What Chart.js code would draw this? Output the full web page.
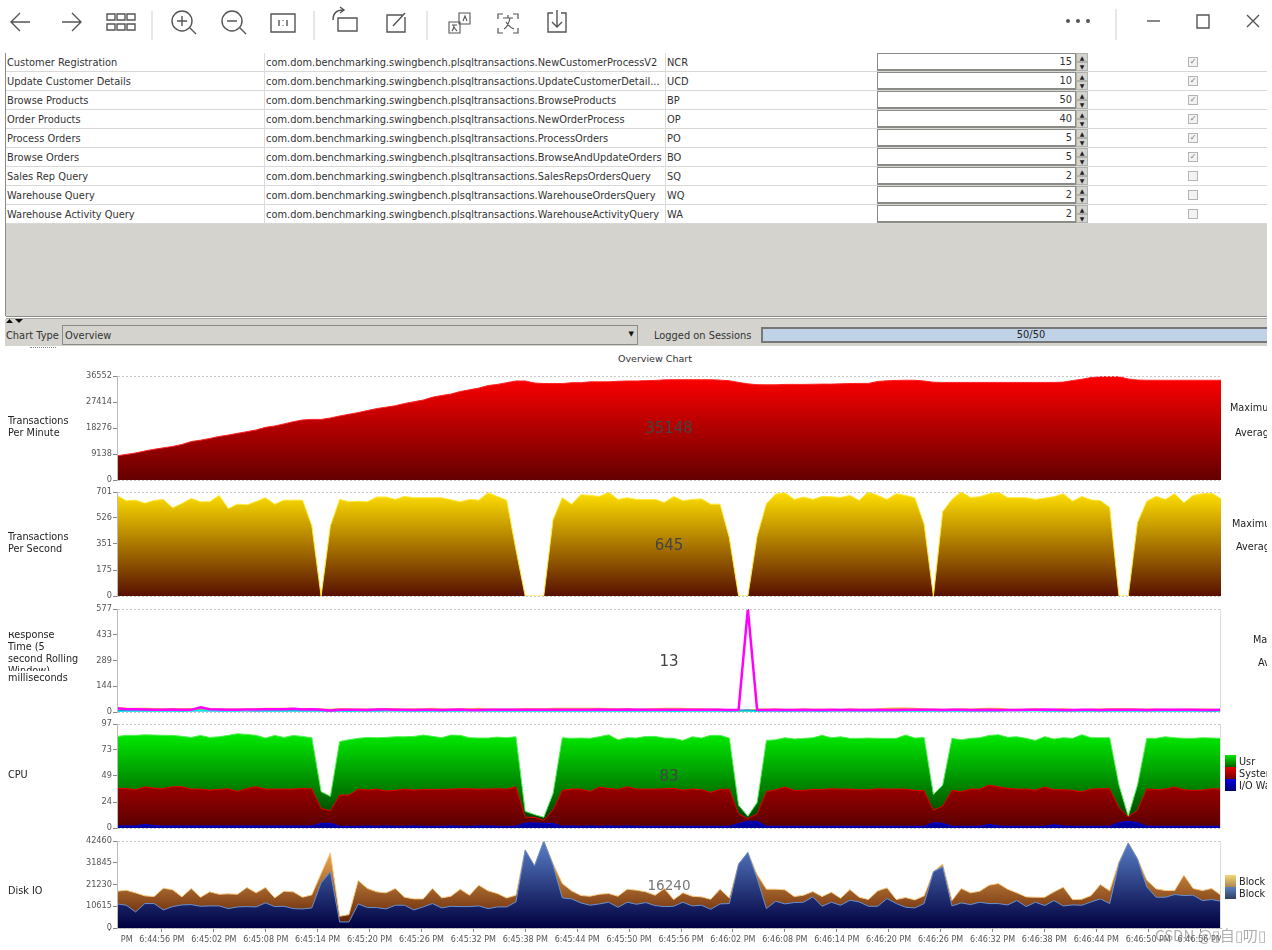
<!DOCTYPE html>
<html lang="en">

<head>
    <meta charset="UTF-8">
    <title>Overview Chart</title>
    <script src="https://cdn.jsdelivr.net/npm/chart.js"></script>
    <style>
        html, body { margin: 0; padding: 0; background: #fff; overflow: hidden; }
        body { width: 1272px; height: 950px; position: relative; font-family: "DejaVu Sans", sans-serif; font-size: 9.85px; color: #333; }
        .abs { position: absolute; white-space: nowrap; }
        canvas { position: absolute; left: 0; }
        .panel { position: absolute; background: #d4d3ce; }
        .row { position: absolute; left: 6px; width: 1266px; height: 19px; background: #fff; border-bottom: 1px solid #d8d8d4; box-sizing: border-box; overflow: hidden; }
        .row span { position: absolute; top: 4px; white-space: nowrap; }
        .col { position: absolute; top: 53px; height: 170px; width: 1px; background: #dddddd; }
        .spin { position: absolute; left: 871px; top: 0; width: 199px; height: 18px; box-sizing: border-box; background: #fff; border: 1px solid #8a8a86; border-bottom-width: 2px; text-align: right; padding: 2px 3px 0 0; color: #333; }
        .btn { position: absolute; left: 1070px; width: 12px; height: 9px; background: #d4d3ce; border: 1px solid #b0b0ac; box-sizing: border-box; font-size: 6px; line-height: 7px; text-align: center; color: #222; }
        .check { position: absolute; left: 1182px; top: 4px; width: 10px; height: 10px; box-sizing: border-box; border: 1px solid #b4b4b4; background: #f2f2f2; font-size: 8px; line-height: 8px; text-align: center; color: #777; }
        .side { font-size: 9.7px; color: #222; }
        .big { font-size: 15px; color: #444; transform: translateX(-50%); }
        .swatch { position: absolute; left: 1225px; width: 11px; height: 12px; }
    </style>
</head>

<body>
    <!-- barra do visualizador -->
    <svg class="abs" style="left:0;top:0" width="1272" height="50" fill="none" stroke="#555" stroke-width="1.4">
        <path d="M30 22H12M20 13l-9 9 9 9" />
        <path d="M62 22h18M72 13l9 9-9 9" />
        <path d="M107 14h8v6h-8zM117 14h8v6h-8zM127 14h8v6h-8zM107 24h8v6h-8zM117 24h8v6h-8zM127 24h8v6h-8z" />
        <path d="M152 11v29" stroke="#ddd" />
        <circle cx="182" cy="21" r="10" /><path d="M190 28l6 6M177 21h10M182 16v10" />
        <circle cx="232" cy="21" r="10" /><path d="M240 28l6 6M227 21h10" />
        <path d="M271 14h24v18h-24zM279 20v6M287 20v6" />
        <path d="M283 20v1M283 25v1" stroke-width="1" />
        <path d="M314 11v29" stroke="#ddd" />
        <path d="M338 18h19v13h-19zM333 20c0-7 4-10 10-10M340 7l4 3-4 3" />
        <path d="M403 15h-16v17h18v-15M393 26l12-13" />
        <path d="M427 11v29" stroke="#ddd" />
        <path d="M459 13h11v11h-11zM449 22h11v11h-11zM452 25h5M454 25c0 3-1 5-2 6M454 27c1 2 2 3 3 4M463 21l2-5 2 5" stroke-width="1.1" />
        <path d="M498 19v-5h5M513 14h5v5M518 28v5h-5M503 33h-5v-5M503 18h10M508 15v3M504 29c3-2 5-6 6-11M506 22c2 3 4 6 8 7" stroke-width="1.2" />
        <path d="M553 13h-5v19h18v-19h-5M557 10v17M552 22l5 5 5-5" />
        <circle cx="1068" cy="21" r="2" fill="#555" stroke="none" /><circle cx="1078" cy="21" r="2" fill="#555" stroke="none" /><circle cx="1088" cy="21" r="2" fill="#555" stroke="none" />
        <path d="M1116 9v31" stroke="#ddd" />
        <path d="M1147 21h13" />
        <path d="M1197 15h12v13h-12z" />
        <path d="M1247 15l12 12M1259 15l-12 12" />
    </svg>

    <!-- tabela de transacoes -->
    <div class="panel" style="left:5px;top:53px;width:1267px;height:263px;border-left:1px solid #8a8a86;box-sizing:border-box"></div>
    <div id="tabela"></div>
    <div class="col" style="left:264px"></div>
    <div class="col" style="left:665px"></div>
    <div class="abs" style="left:6px;top:316px;width:1266px;height:1px;background:#8a8a86"></div>
    <div class="abs" style="left:6px;top:318px;width:1266px;height:1px;background:#a8a8a4"></div>
    <div class="panel" style="left:5px;top:319px;width:1267px;height:27px"></div>
    <svg class="abs" style="left:5px;top:318px" width="20" height="6" fill="#111"><path d="M1 5l3.5-4 3.5 4zM10 1h8l-4 4z" /></svg>
    <div class="abs" style="left:6px;top:330px">Chart Type</div>
    <div class="abs" style="left:62px;top:325px;width:576px;height:20px;box-sizing:border-box;border:1px solid #8a8a86;padding:4px 0 0 2px">Overview<span style="position:absolute;right:3px;top:4px;font-size:7px;color:#111">▼</span></div>
    <div class="abs" style="left:654px;top:330px">Logged on Sessions</div>
    <div class="abs" style="left:761px;top:327px;width:538px;height:16px;box-sizing:border-box;background:#c0d2e8;border:1px solid #777;border-width:2px 0 2px 2px;text-align:center;line-height:12px;color:#222">50/50</div>
    <div class="abs" style="left:30px;top:347px;width:26px;height:0;border-top:1px dotted #888"></div>

    <div class="abs" style="left:618px;top:353px;font-size:9.5px">Overview Chart</div>

    <canvas id="tpm"></canvas>
    <canvas id="tps"></canvas>
    <canvas id="resp"></canvas>
    <canvas id="cpu"></canvas>
    <canvas id="disk"></canvas>

    <!-- esconde as pontas dos rotulos do eixo x, como no original -->
    <div class="abs" style="left:60px;top:931px;width:58px;height:19px;background:#fff"></div>
    <div class="abs" style="left:1221px;top:931px;width:51px;height:19px;background:#fff"></div>
    <div class="abs" style="left:1220px;top:609px;width:1px;height:103px;background:#ddd"></div>
    <div class="abs" style="left:1220px;top:724px;width:1px;height:104px;background:#ddd"></div>
    <div class="abs" style="left:1220px;top:841px;width:1px;height:87px;background:#ddd"></div>

    <div class="abs side" style="left:8px;top:415px;line-height:12px">Transactions<br>Per Minute</div>
    <div class="abs side" style="left:8px;top:531px;line-height:12px">Transactions<br>Per Second</div>
    <div class="abs side" style="left:8px;top:632px;width:90px;height:39px;overflow:hidden;line-height:12px"><div style="margin-top:-3px">Response<br>Time (5<br>second Rolling<br>Window)</div></div>
    <div class="abs side" style="left:8px;top:672px;line-height:12px">milliseconds</div>
    <div class="abs side" style="left:8px;top:769px">CPU</div>
    <div class="abs side" style="left:8px;top:885px">Disk IO</div>

    <div class="abs side" style="left:1230px;top:402px">Maximum</div>
    <div class="abs side" style="left:1235px;top:427px">Average</div>
    <div class="abs side" style="left:1232px;top:518px">Maximum</div>
    <div class="abs side" style="left:1236px;top:541px">Average</div>
    <div class="abs side" style="left:1253px;top:634px">Maximum</div>
    <div class="abs side" style="left:1258px;top:657px">Average</div>

    <div class="abs big" style="left:669px;top:419px">35148</div>
    <div class="abs big" style="left:669px;top:536px">645</div>
    <div class="abs big" style="left:669px;top:652px">13</div>
    <div class="abs big" style="left:669px;top:767px">83</div>
    <div class="abs big" style="left:669px;top:877px;font-size:13.5px;color:#777">16240</div>

    <div class="swatch" style="top:755px;background:linear-gradient(#00e800,#006000)"></div>
    <div class="swatch" style="top:767px;background:linear-gradient(#e80000,#700000)"></div>
    <div class="swatch" style="top:779px;background:linear-gradient(#0000e8,#000070)"></div>
    <div class="abs side" style="left:1239px;top:756px">Usr</div>
    <div class="abs side" style="left:1239px;top:768px">System</div>
    <div class="abs side" style="left:1239px;top:780px">I/O Wait</div>
    <div class="swatch" style="top:875px;background:linear-gradient(#f4d878,#a88850)"></div>
    <div class="swatch" style="top:887px;background:linear-gradient(#5a80c0,#304060)"></div>
    <div class="abs side" style="left:1239px;top:876px">Block</div>
    <div class="abs side" style="left:1239px;top:888px">Block</div>

    <div class="abs" style="left:1155px;top:924px;font:15px 'Noto Sans CJK SC',sans-serif;color:rgba(120,120,120,.6)">CSDN @▯自▯叨▯</div>

    <!-- a captura termina antes da borda direita -->
    <div class="abs" style="left:1267px;top:0;width:5px;height:950px;background:#fff"></div>

    <script>
        // tabela
        const txnNames = ['Customer Registration', 'Update Customer Details', 'Browse Products', 'Order Products', 'Process Orders', 'Browse Orders', 'Sales Rep Query', 'Warehouse Query', 'Warehouse Activity Query'];
        const txnClasses = ['NewCustomerProcessV2', 'UpdateCustomerDetail...', 'BrowseProducts', 'NewOrderProcess', 'ProcessOrders', 'BrowseAndUpdateOrders', 'SalesRepsOrdersQuery', 'WarehouseOrdersQuery', 'WarehouseActivityQuery'];
        const txnCodes = ['NCR', 'UCD', 'BP', 'OP', 'PO', 'BO', 'SQ', 'WQ', 'WA'];
        const txnWeights = [15, 10, 50, 40, 5, 5, 2, 2, 2];
        const txnEnabled = [true, true, true, true, true, true, false, false, false];

        // eixo de tempo
        const tickSeconds = [0, 6, 12, 18, 24, 30, 36, 42, 48, 54, 60, 66, 72, 78, 84, 90, 96, 102, 108, 114, 120, 126];
        const tickLabels = ['6:44:50 PM', '6:44:56 PM', '6:45:02 PM', '6:45:08 PM', '6:45:14 PM', '6:45:20 PM', '6:45:26 PM', '6:45:32 PM', '6:45:38 PM', '6:45:44 PM', '6:45:50 PM', '6:45:56 PM', '6:46:02 PM', '6:46:08 PM', '6:46:14 PM', '6:46:20 PM', '6:46:26 PM', '6:46:32 PM', '6:46:38 PM', '6:46:44 PM', '6:46:50 PM', '6:46:56 PM'];

        // ticks do eixo y
        const tpmTicks = [0, 9138, 18276, 27414, 36552];
        const tpsTicks = [0, 175, 351, 526, 701];
        const respTicks = [0, 144, 289, 433, 577];
        const cpuTicks = [0, 24, 49, 73, 97];
        const diskTicks = [0, 10615, 21230, 31845, 42460];

        const tpmValues = [8490, 9000, 9500, 10200, 10800, 11300, 11800, 12500, 13500, 14000,
            14600, 15300, 15800, 16400, 17000, 17600, 18500, 19000, 19700, 20500,
            21100, 21300, 21300, 21800, 22500, 23100, 23700, 24400, 25100, 25600,
            26100, 26900, 27500, 28100, 29100, 29700, 30200, 31100, 31700, 32300,
            33200, 33600, 34200, 34800, 34800, 34100, 33900, 33900, 33900, 34200,
            34200, 34500, 34500, 34500, 34700, 34800, 34800, 34900, 35000, 35200,
            35250, 35250, 35250, 35250, 35250, 35100, 34900, 34300, 33800, 33500,
            33450, 33450, 33600, 33600, 33600, 33650, 33700, 33700, 33800, 33900,
            33950, 33950, 34650, 34850, 35000, 35050, 35050, 34800, 34350, 34300,
            34300, 34300, 34300, 34300, 34300, 34300, 34300, 34300, 34300, 34300,
            34300, 34300, 34400, 34950, 35400, 36000, 36320, 36350, 36300, 35500,
            35150, 35050, 35050, 35050, 35050, 35050, 35050, 35050, 35050, 35050];

        const tpsValues = [678, 642, 646, 626, 644, 651, 594, 623, 658, 635,
            635, 678, 589, 619, 614, 637, 662, 619, 646, 646,
            646, 473, 0, 473, 651, 635, 639, 635, 667, 667,
            651, 671, 662, 662, 662, 662, 648, 635, 651, 646,
            696, 671, 646, 313, 0, 0, 0, 514, 662, 619,
            683, 678, 671, 699, 651, 662, 651, 651, 651, 630,
            671, 642, 651, 655, 619, 619, 393, 0, 0, 404,
            621, 687, 696, 651, 667, 651, 671, 669, 664, 678,
            644, 701, 678, 651, 689, 678, 662, 484, 0, 568,
            651, 701, 664, 669, 689, 701, 662, 662, 662, 651,
            660, 669, 689, 639, 671, 648, 642, 598, 0, 0,
            495, 639, 671, 651, 689, 628, 678, 689, 694, 655];

        const respMagenta = [21, 16, 15, 14, 13, 13, 14, 13, 12, 26,
            15, 14, 13, 13, 14, 14, 16, 15, 16, 18,
            14, 16, 13, 9, 13, 12, 12, 11, 14, 14,
            12, 12, 11, 12, 12, 11, 12, 14, 11, 11,
            12, 12, 13, 13, 12, 12, 12, 13, 13, 12,
            13, 12, 14, 13, 12, 14, 13, 12, 12, 13,
            12, 12, 13, 12, 12, 12, 11, 12, 577, 11,
            11, 12, 11, 11, 12, 11, 11, 12, 11, 12,
            11, 11, 12, 11, 11, 13, 12, 12, 13, 11,
            12, 12, 11, 11, 13, 11, 11, 11, 12, 12,
            14, 12, 11, 11, 12, 12, 11, 12, 12, 13,
            12, 11, 12, 12, 13, 12, 12, 11, 11, 12];
        const respOrange = [22, 20, 20, 20, 18, 17, 18, 17, 18, 20,
            17, 17, 15, 16, 17, 17, 19, 19, 20, 19,
            18, 18, 16, 14, 18, 17, 16, 15, 17, 18,
            18, 16, 17, 17, 19, 15, 15, 17, 17, 19,
            16, 15, 15, 16, 18, 18, 17, 19, 20, 20,
            20, 20, 20, 18, 17, 17, 16, 16, 18, 20,
            20, 19, 17, 17, 16, 15, 5, 4, 4, 15,
            16, 15, 14, 14, 15, 14, 14, 14, 14, 15,
            14, 14, 15, 19, 21, 21, 19, 17, 15, 14,
            15, 17, 16, 18, 19, 19, 15, 14, 14, 18,
            13, 14, 17, 14, 13, 14, 16, 18, 18, 18,
            16, 15, 15, 14, 14, 15, 15, 16, 14, 13];
        const respCyan = [4, 5, 5, 5, 6, 6, 5, 6, 7, 9,
            7, 6, 5, 6, 9, 7, 6, 5, 6, 5,
            6, 5, 5, 5, 5, 4, 5, 6, 6, 7,
            7, 6, 7, 6, 5, 5, 6, 6, 8, 7,
            6, 6, 5, 5, 6, 5, 5, 6, 5, 6,
            5, 5, 6, 5, 5, 6, 5, 5, 6, 5,
            4, 5, 5, 6, 5, 5, 4, 5, 5, 4,
            5, 5, 4, 5, 6, 5, 4, 5, 5, 5,
            6, 5, 6, 5, 5, 5, 5, 6, 7, 6,
            5, 5, 6, 5, 5, 6, 7, 8, 6, 9,
            6, 5, 7, 5, 5, 6, 5, 6, 5, 5,
            6, 6, 5, 5, 5, 6, 5, 5, 4, 5];
        const respBlue = [8, 7, 7, 8, 8, 7, 7, 6, 7, 8,
            7, 7, 8, 7, 7, 6, 8, 9, 7, 7,
            7, 8, 7, 6, 7, 7, 8, 7, 7, 7,
            8, 7, 7, 7, 8, 7, 7, 7, 8, 7,
            7, 8, 7, 7, 7, 8, 7, 7, 8, 7,
            7, 7, 8, 7, 7, 7, 8, 7, 7, 8,
            7, 7, 7, 8, 7, 7, 7, 9, 10, 7,
            7, 8, 7, 7, 7, 8, 7, 9, 13, 8,
            7, 7, 8, 7, 7, 7, 8, 7, 7, 8,
            7, 7, 8, 7, 7, 8, 10, 13, 9, 9,
            8, 7, 7, 8, 7, 7, 8, 7, 7, 8,
            7, 7, 7, 8, 7, 7, 8, 7, 7, 8];
        const respGreen = [10, 11, 11, 10, 10, 11, 10, 11, 10, 12,
            10, 11, 10, 10, 11, 10, 12, 11, 11, 11,
            10, 11, 10, 10, 10, 11, 10, 10, 11, 11,
            10, 10, 11, 11, 12, 10, 10, 11, 10, 11,
            10, 10, 11, 10, 11, 10, 11, 11, 10, 11,
            10, 11, 11, 10, 11, 10, 11, 10, 11, 10,
            11, 10, 11, 10, 11, 10, 8, 9, 9, 10,
            10, 11, 10, 10, 11, 10, 10, 11, 10, 11,
            10, 11, 10, 14, 15, 14, 12, 10, 11, 10,
            10, 14, 14, 15, 13, 13, 11, 10, 11, 12,
            10, 11, 13, 10, 11, 10, 11, 13, 12, 13,
            11, 10, 11, 10, 11, 11, 10, 12, 11, 10];

        const cpuUsr = [48.5, 49.5, 50.7, 48.5, 49.5, 49.5, 47.9, 47, 48.2, 50,
            49.1, 49.1, 49.8, 53.8, 50.4, 47.9, 47.6, 50, 48.2, 50,
            48.5, 47.6, 15.7, 13.5, 50, 51.6, 47.3, 49.1, 47.9, 50,
            50, 48.8, 50, 50.7, 49.5, 48.2, 50.4, 49.8, 47.6, 47.6,
            47.6, 48.2, 47.9, 46.6, 5.6, 2.5, 2.8, 15.3, 49.1, 47.3,
            47.6, 49.5, 47, 50, 46.3, 45.7, 47.6, 49.1, 49.1, 47.3,
            46.6, 46.3, 48.8, 48.2, 53.2, 50.4, 47.6, 8.1, 2.2, 10.6,
            47.9, 46.6, 46, 47.9, 48.5, 48.2, 50.4, 47.6, 48.8, 47.3,
            47.9, 48.2, 47, 47.3, 47.3, 50.4, 48.8, 49.5, 14.7, 19.7,
            48.5, 48.5, 47.3, 47.9, 46.3, 48.5, 47.6, 48.8, 47.3, 46.3,
            47, 47.3, 48.5, 48.5, 53.2, 47.9, 47.6, 47.6, 21, 0.6,
            23.5, 47, 47.9, 48.8, 46, 47.9, 48.5, 48.8, 47.3, 47.3];
        const cpuSystem = [35, 35, 33.8, 35, 35, 35, 36.6, 36.6, 34.4, 34.4,
            33.5, 34.1, 34.7, 32.2, 35, 36.6, 34.4, 34.4, 34.4, 34.4,
            35, 34.7, 13.8, 11.6, 29.1, 29.1, 34.7, 33.5, 34.7, 32.6,
            33.5, 34.7, 33.5, 34.4, 34.4, 34.4, 34.4, 35, 35, 34.4,
            34.4, 35, 34.7, 36.9, 5.3, 5.3, 2.8, 12.8, 33.5, 34.4,
            34.7, 32.2, 36.6, 35, 34.4, 36.6, 34.7, 34.7, 34.7, 35,
            35.4, 33.8, 34.7, 34.1, 31.6, 34.4, 34.7, 9.1, 2.5, 6.9,
            32.2, 34.1, 36.6, 33.5, 33.5, 34.4, 34.4, 35, 34.7, 34.7,
            34.1, 34.1, 35, 34.7, 34.7, 34.7, 33.5, 33.2, 11.6, 16,
            33.5, 32.2, 34.7, 34.7, 36.6, 36.6, 35.4, 34.7, 34.7, 33.8,
            36.6, 32.6, 33.8, 33.5, 32.2, 34.7, 35, 35, 14.1, 4.1,
            11.6, 35, 34.1, 34.7, 36.6, 34.1, 33.5, 33.8, 35, 34.7];
        const cpuIoWait = [1.9, 1.9, 1.9, 3.4, 2.2, 1.9, 1.9, 1.9, 1.9, 1.9,
            1.9, 1.9, 1.9, 1.9, 1.9, 1.9, 1.9, 1.9, 1.9, 1.9,
            1.9, 1.9, 4.4, 4.4, 1.6, 1.6, 1.6, 1.9, 1.6, 1.9,
            1.6, 1.6, 1.9, 1.6, 1.6, 1.6, 1.9, 1.6, 1.6, 1.9,
            1.9, 1.6, 1.6, 1.6, 4.7, 4.7, 4.4, 4.1, 1.6, 1.9,
            1.6, 1.9, 1.6, 1.9, 1.6, 1.9, 1.6, 1.6, 1.6, 1.6,
            1.6, 1.6, 1.6, 1.6, 1.6, 1.6, 1.6, 4.1, 6.3, 6.3,
            1.6, 1.6, 1.6, 1.6, 1.6, 1.6, 1.6, 1.6, 1.6, 1.6,
            1.6, 1.6, 1.6, 1.6, 1.6, 1.6, 1.6, 1.6, 5, 4.4,
            1.6, 1.6, 1.6, 1.6, 3.4, 1.9, 1.6, 1.6, 1.6, 1.6,
            1.6, 3.1, 1.9, 1.6, 1.6, 1.6, 1.6, 1.6, 5, 6.3,
            5, 1.6, 1.6, 1.6, 1.6, 1.6, 1.6, 1.6, 1.6, 1.6];

        const diskOrange = [17960, 18450, 17150, 15680, 15350, 19430, 18620, 15190, 19270, 15020,
            17640, 16490, 16660, 16490, 19760, 17150, 19760, 14700, 17960, 17640,
            15020, 16170, 26620, 36740, 5720, 6530, 23190, 19270, 17640, 17150,
            19270, 15020, 14210, 14210, 19270, 14700, 15510, 18940, 16000, 20900,
            18130, 16820, 14700, 16000, 38210, 30370, 42460, 31520, 21720, 18130,
            15840, 15510, 16490, 16820, 15510, 18940, 18450, 17640, 16000, 19270,
            13880, 17150, 15510, 15190, 14040, 18940, 14700, 31190, 36740, 26130,
            18940, 18940, 18620, 15350, 16000, 17800, 15350, 17470, 14530, 18780,
            15020, 13880, 18130, 19600, 13880, 14860, 13720, 15680, 27430, 31190,
            13390, 19270, 17150, 17960, 20900, 21720, 18940, 17150, 15190, 15020,
            15020, 17640, 19920, 13880, 14040, 15840, 21230, 18130, 32330, 41640,
            33970, 23350, 19110, 18290, 18290, 25800, 19270, 18290, 19270, 16000];
        const diskBlue = [11760, 11100, 7840, 11920, 11920, 8820, 10450, 11270, 11430, 10610,
            10780, 10780, 9470, 10290, 10450, 10290, 12250, 10450, 10610, 9470,
            9310, 9800, 22050, 27430, 2940, 2940, 11760, 9960, 9960, 9310,
            11100, 11100, 8820, 10290, 11920, 9800, 10610, 10450, 10450, 10780,
            9470, 10290, 10290, 12740, 38050, 30370, 42460, 30700, 14700, 14210,
            12250, 11100, 11760, 12570, 10120, 12570, 11590, 12410, 10940, 10450,
            10610, 12570, 10780, 11100, 9140, 11760, 11920, 31190, 36910, 24170,
            9470, 13060, 11760, 12410, 12570, 15190, 10610, 12570, 11100, 13550,
            12740, 10610, 10610, 14370, 11920, 10120, 9800, 11920, 27430, 29880,
            10780, 12250, 11430, 12570, 11920, 11920, 11270, 13390, 10450, 12570,
            10940, 13390, 10780, 11270, 11100, 12740, 14210, 11920, 31520, 41480,
            33640, 20090, 15020, 15020, 16330, 15840, 16000, 13390, 13880, 13060];

        // cada amostra cai a cerca de 1,07 s da anterior
        const sampleStart = 0.81;
        const sampleStep = 1.0723;
        const xMax = sampleStart + sampleStep * 119;

        function serie(valores) {
            return valores.map(function (v, i) { return { x: sampleStart + i * sampleStep, y: v }; });
        }

        // degrade vertical sobre a area do grafico
        function degrade(cores) {
            return function (context) {
                const area = context.chart.chartArea;
                if (!area) return cores[0];
                const g = context.chart.ctx.createLinearGradient(0, area.top, 0, area.bottom);
                g.addColorStop(0, cores[0]);
                g.addColorStop(1, cores[1]);
                return g;
            };
        }

        function desenhar(id, top, height, yTicks, datasets, opcoes) {
            opcoes = opcoes || {};
            const canvas = document.getElementById(id);
            const plotTop = 8;
            const bottomExtra = opcoes.comEixoX ? 22 : 8;
            canvas.style.top = (top - plotTop) + 'px';
            canvas.width = 1272;
            canvas.height = height + plotTop + bottomExtra;
            canvas.style.width = '1272px';
            canvas.style.height = canvas.height + 'px';

            new Chart(canvas.getContext('2d'), {
                type: 'line',
                data: { datasets: datasets },
                options: {
                    responsive: false,
                    animation: false,
                    events: [],
                    layout: { padding: { top: plotTop, right: 51, left: 0, bottom: opcoes.comEixoX ? 0 : bottomExtra } },
                    plugins: { legend: { display: false }, tooltip: { enabled: false } },
                    elements: { point: { radius: 0 }, line: { tension: 0 } },
                    scales: {
                        x: {
                            type: 'linear',
                            min: sampleStart,
                            max: xMax,
                            display: !!opcoes.comEixoX,
                            grid: { drawOnChartArea: false, tickLength: 4, tickColor: '#888' },
                            border: { color: '#bbb' },
                            afterBuildTicks: function (scale) {
                                scale.ticks = tickSeconds.map(function (v) { return { value: v }; });
                            },
                            afterFit: function (scale) { if (opcoes.comEixoX) scale.height = bottomExtra; },
                            ticks: {
                                autoSkip: false,
                                maxRotation: 0,
                                padding: 3,
                                color: '#555',
                                font: { family: 'DejaVu Sans', size: 8 },
                                callback: function (value) { return tickLabels[tickSeconds.indexOf(value)]; }
                            }
                        },
                        y: {
                            stacked: !!opcoes.empilhado,
                            min: 0,
                            max: yTicks[yTicks.length - 1],
                            afterBuildTicks: function (scale) {
                                scale.ticks = yTicks.map(function (v) { return { value: v }; });
                            },
                            afterFit: function (scale) { scale.width = 117; },
                            // a borda precisa do mesmo z da grade, senao sai em x=0
                            border: { color: '#bbb', dash: [2, 2], z: 1 },
                            grid: {
                                z: 1,
                                tickLength: 4,
                                tickColor: '#888',
                                color: function (c) {
                                    const v = c.tick.value;
                                    return (v === 0 || v === yTicks[yTicks.length - 1]) ? '#c8c8c8' : 'transparent';
                                }
                            },
                            ticks: {
                                padding: 1,
                                color: '#555',
                                font: { family: 'DejaVu Sans', size: 8.2 },
                                callback: function (value) { return value; }
                            }
                        }
                    }
                }
            });
        }

        function area(valores, topo, base, linha, largura) {
            return {
                data: serie(valores),
                fill: 'origin',
                backgroundColor: degrade([topo, base]),
                borderColor: linha,
                borderWidth: largura || 1
            };
        }

        function linhaResp(valores, cor, largura) {
            return { data: serie(valores), fill: false, borderColor: cor, borderWidth: largura };
        }

        function montarTabela() {
            const tabela = document.getElementById('tabela');
            for (let i = 0; i < txnNames.length; i++) {
                const row = document.createElement('div');
                row.className = 'row';
                row.style.top = (53 + 19 * i) + 'px';
                const itens = [
                    '<span style="left:1px">' + txnNames[i] + '</span>',
                    '<span style="left:260px">com.dom.benchmarking.swingbench.plsqltransactions.' + txnClasses[i] + '</span>',
                    '<span style="left:661px">' + txnCodes[i] + '</span>',
                    '<div class="spin">' + txnWeights[i] + '</div>',
                    '<div class="btn" style="top:0">▲</div><div class="btn" style="top:9px">▼</div>',
                    '<div class="check">' + (txnEnabled[i] ? '✓' : '') + '</div>'
                ];
                row.innerHTML = itens.join('');
                tabela.appendChild(row);
            }
        }

        montarTabela();

        desenhar('tpm', 376, 104, tpmTicks, [area(tpmValues, '#ff0000', '#640000', '#ff2020')]);
        desenhar('tps', 492, 104, tpsTicks, [area(tpsValues, '#ffe000', '#581000', '#ffe830')]);
        desenhar('resp', 609, 103, respTicks, [
            linhaResp(respMagenta, '#ff00ff', 2.5),
            linhaResp(respCyan, '#00e8e8', 1.5),
            linhaResp(respBlue, '#2030c0', 1.2),
            linhaResp(respGreen, '#60c040', 1.2),
            linhaResp(respOrange, '#ffb030', 1.5)
        ]);
        desenhar('cpu', 724, 104, cpuTicks, [
            area(cpuIoWait, '#0000ff', '#0000a0', '#0000e0'),
            area(cpuSystem, '#ff0000', '#580000', '#e80000'),
            area(cpuUsr, '#00ff00', '#003000', '#50f050')
        ], { empilhado: true });
        desenhar('disk', 841, 87, diskTicks, [
            area(diskBlue, '#5a80c8', '#000040', '#6890d0'),
            area(diskOrange, '#ffc060', '#581800', '#f8c880')
        ], { comEixoX: true });
    </script>
</body>

</html>
